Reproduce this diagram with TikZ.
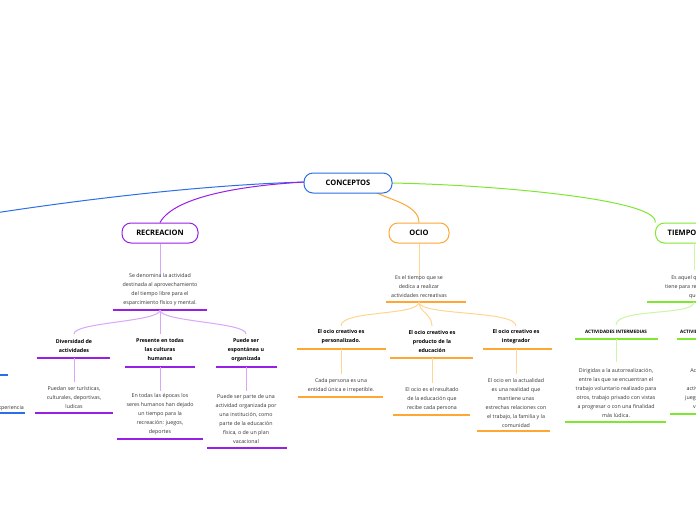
\documentclass[tikz,border=0pt]{standalone}
\usepackage{fontspec}
\setmainfont{Open Sans}
\definecolor{cblue}{HTML}{2A6FE8}
\definecolor{cpur}{HTML}{9A1FE6}
\definecolor{lpur}{HTML}{D9A6FA}
\definecolor{cor}{HTML}{FFA733}
\definecolor{lor}{HTML}{FFD592}
\definecolor{cgr}{HTML}{7EE830}
\definecolor{lgr}{HTML}{CDF5A6}
\definecolor{txt}{HTML}{333333}
\begin{document}
\begin{tikzpicture}[x=1pt,y=-1pt,
 main/.style={draw=#1,line width=1pt,rounded corners=9pt,fill=white,minimum height=20pt,font=\fontsize{7.5}{9}\selectfont\bfseries,text=black},
 tx/.style={align=center,font=\fontsize{5.3}{9}\selectfont,text=txt,inner sep=0pt},
 hd/.style={align=center,font=\fontsize{5.3}{9}\selectfont\bfseries,text=black,inner sep=0pt},
 ul/.style={draw=#1,line width=1.3pt},
 cn/.style={draw=#1,line width=1pt}]
\useasboundingbox (0,0) rectangle (696,520);
\clip (0,0) rectangle (696,520);
\fill[white] (0,0) rectangle (696,520);
% main nodes
\node[main=cpur,minimum width=76pt] (R) at (160,233) {RECREACION};
\node[main=cor,minimum width=60pt] (O) at (419,233) {OCIO};
\node[main=cgr,minimum width=76pt,anchor=west] (T) at (655,233) {TIEMPO LIBRE};
\coordinate (L) at (-5,213);
\coordinate (Cw) at (305,182);
\coordinate (Cs) at (375,192);
\coordinate (Ce) at (392,183);
\draw[cblue,line width=1pt] (Cw) .. controls (200,185) and (80,200) .. (L);
\draw[cpur,line width=1pt] (Cw) .. controls (250,185) and (175,195) .. (R.north);
\draw[cor,line width=1pt] (Cs) .. controls (390,200) and (419,205) .. (O.north);
\draw[cgr,line width=1pt] (Ce) .. controls (500,185) and (660,200) .. (T.north west);
\node[main=cblue,minimum width=88pt] (C) at (348,183) {CONCEPTOS};
% RECREACION
\node[tx] (Rd) at (160,290) {Se denomina la actividad\\destinada al aprovechamiento\\del tiempo libre para el\\esparcimiento físico y mental.};
\draw[ul=cpur] (113,310) -- (207,310);
\coordinate (Rb) at (160,310);
\draw[cn=lpur] (R.south) -- (Rd.north);
\node[hd] (R1) at (74,346) {Diversidad de\\actividades};
\node[hd] (R2) at (160,350) {Presente en todas\\las culturas\\humanas};
\node[hd] (R3) at (246,350) {Puede ser\\espontánea u\\organizada};
\draw[cn=lpur] (Rb) .. controls (160,322) and (74,322) .. (74,334);
\draw[cn=lpur] (Rb) -- (160,334);
\draw[cn=lpur] (Rb) .. controls (160,322) and (246,322) .. (246,334);
\draw[ul=cpur] (37,358) -- (110,358);
\draw[ul=cpur] (125,367) -- (195,367);
\draw[ul=cpur] (216,367) -- (277,367);
\node[tx] (R1a) at (74,397) {Puedan ser turísticas,\\culturales, deportivas,\\ludicas};
\node[tx] (R2a) at (160,414) {En todas las épocas los\\seres humanos han dejado\\un tiempo para la\\recreación: juegos,\\deportes};
\node[tx] (R3a) at (246,419) {Puede ser parte de una\\actividad organizada por\\una institución, como\\parte de la educación\\física, o de un plan\\vacacional};
\draw[cn=lpur] (74,358) -- (74,382);
\draw[cn=lpur] (160,367) -- (160,391);
\draw[cn=lpur] (246,367) -- (246,391);
\draw[ul=cpur] (35,413) -- (113,413);
\draw[ul=cpur] (117,439) -- (203,439);
\draw[ul=cpur] (207,448) -- (287,448);
% OCIO
\node[tx] (Od) at (419,287) {Es el tiempo que se\\dedica a realizar\\actividades recreativas};
\draw[cn=lor] (O.south) -- (Od.north);
\draw[ul=cor] (386,302) -- (466,302);
\coordinate (Ob) at (419,302);
\node[hd] (O1) at (341,337) {El ocio creativo es\\personalizado.};
\node[hd] (O2) at (432,342) {El ocio creativo es\\producto de la\\educación};
\node[hd] (O3) at (516,337) {El ocio creativo es\\integrador};
\draw[cn=lor] (Ob) .. controls (419,316) and (341,310) .. (341,326);
\draw[cn=lor] (Ob) .. controls (419,312) and (432,314) .. (432,326);
\draw[cn=lor] (Ob) .. controls (419,316) and (516,310) .. (516,326);
\draw[ul=cor] (297,349) -- (386,349);
\draw[ul=cor] (390,358) -- (473,358);
\draw[ul=cor] (483,349) -- (552,349);
\node[tx] (O1a) at (341,385.5) {Cada persona es una\\entidad única e irrepetible.};
\node[tx] (O2a) at (432,399) {El ocio es el resultado\\de la educación que\\recibe cada persona};
\node[tx] (O3a) at (516,403) {El ocio en la actualidad\\es una realidad que\\mantiene unas\\estrechas relaciones con\\el trabajo, la familia y la\\comunidad};
\draw[cn=lor] (341,349) -- (341,374);
\draw[cn=lor] (432,358) -- (432,383);
\draw[cn=lor] (516,349) -- (516,374);
\draw[ul=cor] (298,397) -- (383,397);
\draw[ul=cor] (393,415) -- (470,415);
\draw[ul=cor] (477,431) -- (550,431);
% TIEMPO LIBRE
\node[tx] (Td) at (702,287) {Es aquel que el individuo\\tiene para realizar actividades\\que desee};
\draw[cn=lgr] (694,243) -- (694,270);
\draw[ul=cgr] (647,302) -- (710,302);
\node[hd] (T1) at (616,332) {\fontsize{4.6}{9}\selectfont ACTIVIDADES INTERMEDIAS};
\node[hd,anchor=west] (T2) at (680,332) {\fontsize{4.6}{9}\selectfont ACTIVIDADES DE OCIO};
\draw[cn=lgr] (694,302) .. controls (694,316) and (616,308) .. (616,325);
\draw[ul=cgr] (575,339) -- (658,339);
\draw[ul=cgr] (677,339) -- (710,339);
\node[tx] (T1a) at (616,393) {Dirigidas a la autorrealización,\\entre las que se encuentran el\\trabajo voluntario realizado para\\otros, trabajo privado con vistas\\a progresar o con una finalidad\\más lúdica.};
\node[tx,anchor=north west] (T2a) at (685,368) {Actividades\\son\\actividades de\\juego, aficiones\\varias de};
\draw[cn=lgr] (616,339) -- (616,362);
\draw[ul=cgr] (565,422) -- (666,422);
\draw[ul=cgr] (670,414) -- (710,414);
% left blue fragments
\draw[ul=cblue] (-5,375) -- (8,375);
\node[tx,anchor=east] (Bx) at (24,408) {experiencia};
\draw[ul=cblue] (-5,413) -- (25,413);
\end{tikzpicture}
\end{document}
